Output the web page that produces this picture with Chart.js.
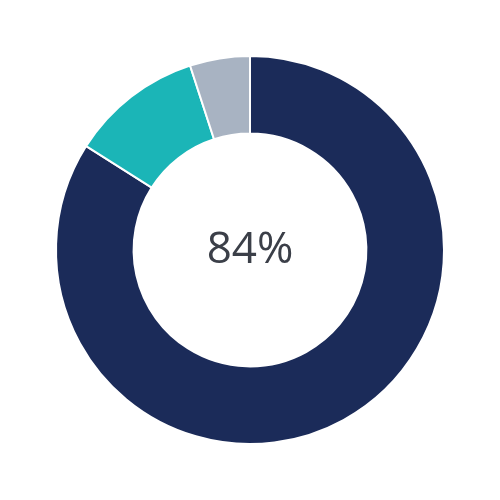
<!DOCTYPE html>
<html><head><meta charset="utf-8">
<script src="https://cdn.jsdelivr.net/npm/chart.js@4"></script>
<style>html,body{margin:0;padding:0;background:#fff}#w{position:relative;width:500px;height:500px}</style>
</head><body><div id="w"><canvas id="c" width="500" height="500"></canvas></div>
<script>
const labels = ["A","B","C"];
const values = [84, 11, 5];
const colors = ["#1b2b59", "#1bb5b7", "#a8b3c2"];
const centerText = "84%";
const centerPlugin = {
  id: 'center',
  afterDraw(chart) {
    const {ctx, chartArea} = chart;
    const x = (chartArea.left + chartArea.right) / 2, y = (chartArea.top + chartArea.bottom) / 2;
    ctx.save();
    ctx.font = '44px "Open Sans", sans-serif';
    ctx.fillStyle = '#3b3f48';
    ctx.textAlign = 'center'; ctx.textBaseline = 'middle';
    ctx.fillText(centerText, x, y);
    ctx.restore();
  }
};
new Chart(document.getElementById('c'), {
  type: 'doughnut',
  data: { labels, datasets: [{ data: values, backgroundColor: colors, borderColor: '#fff', borderWidth: 2 }] },
  options: {
    responsive: false, animation: false, cutout: '60%',
    layout: { padding: 55 },
    plugins: { legend: { display: false }, tooltip: { enabled: false } }
  },
  plugins: [centerPlugin]
});
</script></body></html>
